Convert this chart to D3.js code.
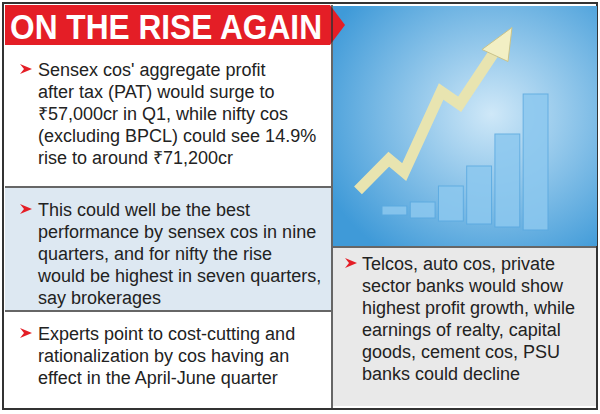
<!DOCTYPE html>
<html><head><meta charset="utf-8">
<script src="https://cdn.jsdelivr.net/npm/d3@7"></script>
<style>body{margin:0;background:#fff}</style></head>
<body><svg id="c" width="600" height="414"></svg>
<script>
const title = "ON THE RISE AGAIN"
const bullets = [
  ["Sensex cos' aggregate profit", "after tax (PAT) would surge to", "₹57,000cr in Q1, while nifty cos", "(excluding BPCL) could see 14.9%", "rise to around ₹71,200cr"],
  ["This could well be the best", "performance by sensex cos in nine", "quarters, and for nifty the rise", "would be highest in seven quarters,", "say brokerages"],
  ["Experts point to cost-cutting and", "rationalization by cos having an", "effect in the April-June quarter"]
]
const sideNote = ["Telcos, auto cos, private", "sector banks would show", "highest profit growth, while", "earnings of realty, capital", "goods, cement cos, PSU", "banks could decline"]
// picture: bar heights and arrow path (relative units 0-100)
const barVals = [12, 14, 22, 32, 48, 68]
const arrowPts = [[0, 8], [10, 25], [15, 18], [27, 62], [33, 55], [50, 97]]

const svg = d3.select("#c")
const font = "'Liberation Sans Narrow','Arial Narrow','Liberation Sans',sans-serif"

svg.append("rect").attr("x", 3).attr("y", 3).attr("width", 594).attr("height", 406)
  .attr("fill", "none").attr("stroke", "#333").attr("stroke-width", 2)

// picture area
const pic = {x: 333, y: 6, w: 264, h: 240}
const grad = svg.append("defs").append("radialGradient").attr("id", "bg").attr("cx", "60%").attr("cy", "45%").attr("r", "70%")
grad.append("stop").attr("offset", "0%").attr("stop-color", "#cfe8f8")
grad.append("stop").attr("offset", "100%").attr("stop-color", "#3f9ad8")
svg.append("rect").attr("x", pic.x).attr("y", pic.y).attr("width", pic.w).attr("height", pic.h).attr("fill", "url(#bg)")

const xb = d3.scaleBand().domain(d3.range(barVals.length)).range([382, 548]).paddingInner(0.12)
const yb = d3.scaleLinear().domain([0, 100]).range([230, 30])
svg.selectAll(".bar").data(barVals).join("rect").attr("class", "bar")
  .attr("x", (d, i) => xb(i)).attr("width", xb.bandwidth())
  .attr("y", d => yb(d)).attr("height", (d, i) => yb(0) - yb(d) - (5 - i) * 3)
  .attr("fill", "#8cc8ef").attr("stroke", "#5aa9e0").attr("opacity", 0.85)

const xa = d3.scaleLinear().domain([0, 50]).range([358, 512])
const ya = d3.scaleLinear().domain([0, 100]).range([205, 22])
svg.append("path").datum(arrowPts.slice(0, -1).concat([[46, 88]]))
  .attr("d", d3.line().x(d => xa(d[0])).y(d => ya(d[1])))
  .attr("fill", "none").attr("stroke", "#e8e4b0").attr("stroke-width", 11).attr("stroke-linejoin", "miter")
const tip = arrowPts[arrowPts.length - 1]
svg.append("path").attr("d", `M${xa(tip[0])},${ya(tip[1])} L${xa(tip[0]) - 30},${ya(tip[1]) + 22} L${xa(tip[0]) - 4},${ya(tip[1]) + 34} Z`)
  .attr("fill", "#f2efc4").attr("stroke", "#c9c38a")

// title
svg.append("path").attr("d", "M5,5 L330,5 L345,25 L330,45 L5,45 Z").attr("fill", "#e41e26")
svg.append("text").attr("x", 10).attr("y", 39).text(title)
  .attr("font-family", "'Liberation Sans','Arial',sans-serif").attr("font-weight", "bold")
  .attr("font-size", 35).attr("fill", "#fff").attr("textLength", 312).attr("lengthAdjust", "spacingAndGlyphs")

// left panels
const panels = [{y: 48, h: 138, fill: "#fff"}, {y: 188, h: 122, fill: "#dde8f2"}, {y: 312, h: 94, fill: "#fff"}]
const lineH = 22
panels.forEach((p, k) => {
  svg.append("rect").attr("x", 5).attr("y", p.y).attr("width", 326).attr("height", p.h).attr("fill", p.fill)
  if (k > 0) svg.append("line").attr("x1", 5).attr("x2", 331).attr("y1", p.y - 1).attr("y2", p.y - 1).attr("stroke", "#333").attr("stroke-width", 1.5)
  const top = p.y + 28
  svg.append("path").attr("d", `M20,${top - 12} L32,${top - 7} L20,${top - 2} L24,${top - 7} Z`).attr("fill", "#e41e26")
  bullets[k].forEach((t, i) => svg.append("text").attr("x", 38).attr("y", top + i * lineH).text(t)
    .attr("font-family", font).attr("font-size", 18).attr("fill", "#222"))
})
svg.append("line").attr("x1", 332).attr("x2", 332).attr("y1", 5).attr("y2", 408).attr("stroke", "#333").attr("stroke-width", 1.5)

// right panel
svg.append("rect").attr("x", 333).attr("y", 248).attr("width", 263).attr("height", 158).attr("fill", "#e9e9e9")
svg.append("line").attr("x1", 333).attr("x2", 597).attr("y1", 247).attr("y2", 247).attr("stroke", "#333").attr("stroke-width", 1.5)
const rt = 270
svg.append("path").attr("d", `M345,${rt - 12} L357,${rt - 7} L345,${rt - 2} L349,${rt - 7} Z`).attr("fill", "#e41e26")
sideNote.forEach((t, i) => svg.append("text").attr("x", 362).attr("y", rt + i * lineH).text(t)
  .attr("font-family", font).attr("font-size", 18).attr("fill", "#222"))
</script></body></html>
